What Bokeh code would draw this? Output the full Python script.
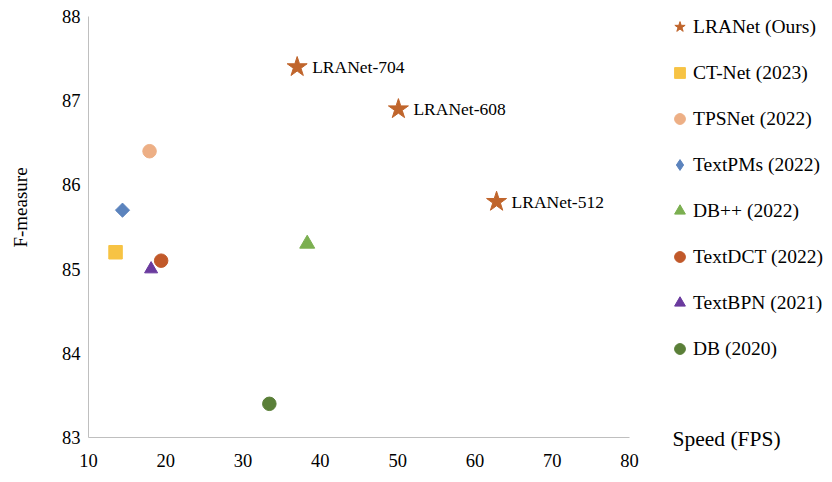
import math
from bokeh.plotting import figure
from bokeh.models import Legend, LegendItem, FixedTicker, Label, ColumnDataSource
from bokeh.core.properties import value
from bokeh.embed import file_html
from bokeh.resources import INLINE

FONT = "Liberation Serif"

# ---- data ----
methods = ["LRANet (Ours)", "CT-Net (2023)", "TPSNet (2022)", "TextPMs (2022)",
           "DB++ (2022)", "TextDCT (2022)", "TextBPN (2021)", "DB (2020)"]
lranet_names = ["LRANet-704", "LRANet-608", "LRANet-512"]
lranet_fps = [37.0, 50.1, 62.8]
lranet_f = [87.4, 86.9, 85.8]
other_fps = [13.5, 17.9, 14.4, 38.3, 19.4, 18.1, 33.4]
other_f = [85.2, 86.4, 85.7, 85.3, 85.1, 85.0, 83.4]
x_ticks = [10, 20, 30, 40, 50, 60, 70, 80]
y_ticks = [83, 84, 85, 86, 87, 88]
x_lim = (10, 80)
y_lim = (83, 88)

colors = ["#C0652C", "#F7C344", "#EDAF85", "#5B83BD", "#7BAF50", "#C1592A", "#6A3A9E", "#5A7F38"]
markers = ["star", "square", "circle", "square", "triangle", "circle", "triangle", "circle"]
legend_markers = ["star", "square", "circle", "diamond", "triangle", "circle", "triangle", "circle"]
sizes = [21, 13.5, 13.5, 10, 15, 13.5, 13, 13.5]
angles = [0, 0, 0, math.pi / 4, 0, 0, 0, 0]

# ---- layout: the axes box occupies pixels [88, 629] x [16, 437] of the canvas ----
W, H = 828, 478
BOX_L, BOX_R, BOX_T, BOX_B = 88, 629, 16, 437
ppx = (BOX_R - BOX_L) / (x_lim[1] - x_lim[0])
ppy = (BOX_B - BOX_T) / (y_lim[1] - y_lim[0])
xr = (x_lim[0] - BOX_L / ppx, x_lim[1] + (W - BOX_R) / ppx)
yr = (y_lim[0] - (H - BOX_B) / ppy, y_lim[1] + BOX_T / ppy)

p = figure(width=W, height=H, x_range=xr, y_range=yr,
           output_backend="svg", toolbar_location=None,
           min_border=0, min_border_left=0, min_border_right=0,
           min_border_top=0, min_border_bottom=0)
p.outline_line_color = None
p.grid.grid_line_color = None
p.background_fill_color = "white"
p.border_fill_color = "white"

p.xaxis.fixed_location = y_lim[0]
p.yaxis.fixed_location = x_lim[0]
p.xaxis.bounds = x_lim
p.yaxis.bounds = y_lim
for ax in (p.xaxis[0], p.yaxis[0]):
    ax.axis_line_color = "#BFBFBF"
    ax.axis_line_width = 1
    ax.major_tick_line_color = None
    ax.minor_tick_line_color = None
    ax.major_tick_out = 0
    ax.major_tick_in = 0
    ax.minor_tick_out = 0
    ax.major_label_text_font = FONT
    ax.major_label_text_font_size = "18.5px"
    ax.major_label_text_color = "black"
p.xaxis.ticker = FixedTicker(ticks=x_ticks)
p.yaxis.ticker = FixedTicker(ticks=y_ticks)
p.xaxis.major_label_standoff = 16
p.yaxis.major_label_standoff = 8

items = []
src0 = ColumnDataSource(dict(x=lranet_fps, y=lranet_f, name=lranet_names))
r0 = p.scatter("x", "y", source=src0, marker=markers[0], size=sizes[0],
               fill_color=colors[0], line_color=colors[0])
items.append(LegendItem(label=methods[0], renderers=[r0]))
p.text("x", "y", text="name", source=src0, x_offset=15, text_baseline="middle",
       text_align="left", text_font=value(FONT), text_font_size="17.5px", text_color="black")

for i in range(1, len(methods)):
    fx, fy = [other_fps[i - 1]], [other_f[i - 1]]
    r = p.scatter(fx, fy, marker=markers[i], size=sizes[i],
                  angle=angles[i], fill_color=colors[i], line_color=colors[i])
    if legend_markers[i] != markers[i]:
        # legend swatch with the un-rotated marker shape (drawn at zero size in the plot)
        r = p.scatter(fx, fy, marker=legend_markers[i], size=0,
                      fill_color=colors[i], line_color=colors[i])
    items.append(LegendItem(label=methods[i], renderers=[r]))

legend = Legend(items=items, location=(666, H - 362), glyph_width=27, glyph_height=27,
                label_standoff=-2, spacing=19, padding=0, margin=0,
                border_line_color=None, background_fill_alpha=0,
                label_text_font=FONT, label_text_font_size="19.5px",
                label_text_color="black", label_height=27)
p.add_layout(legend, "center")

p.add_layout(Label(x=x_lim[0] + (672 - BOX_L) / ppx, y=y_lim[0] - 1 / ppy, text="Speed (FPS)",
                   text_font=FONT, text_font_size="21.5px", text_align="left",
                   text_baseline="middle", text_color="black"))
p.add_layout(Label(x=x_lim[0] + (20 - BOX_L) / ppx, y=y_lim[1] - (207 - BOX_T) / ppy,
                   text="F-measure", text_font=FONT, angle=math.pi / 2,
                   text_font_size="19px", text_align="center", text_baseline="middle",
                   text_color="black"))

open("out.html", "w").write(file_html(p, INLINE))
